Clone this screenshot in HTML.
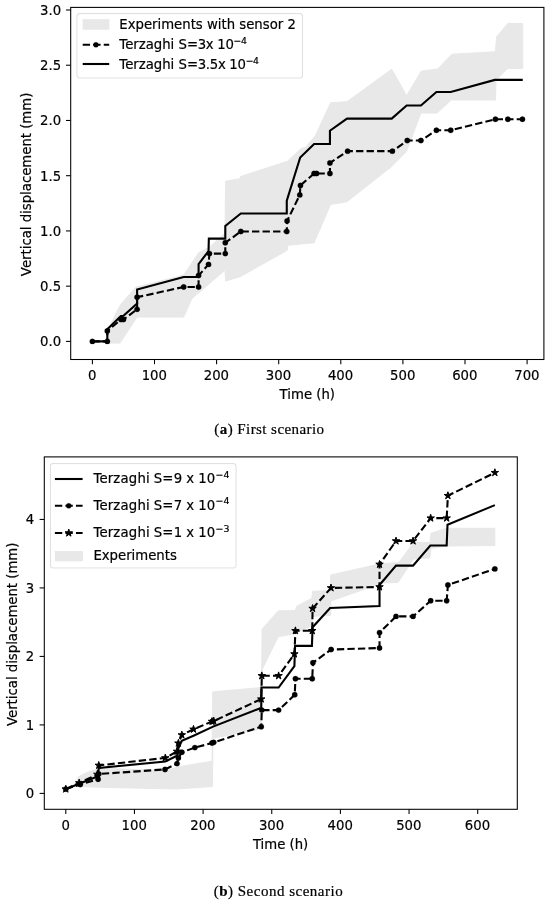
<!DOCTYPE html>
<html lang="en">
<head>
<meta charset="utf-8">
<title>Vertical displacement vs time</title>
<style>
html,body{margin:0;padding:0;background:#fff}
svg{display:block}
</style>
</head>
<body>
<svg width="550" height="905" viewBox="0 0 550 905" font-family='"DejaVu Sans", "Liberation Sans", sans-serif' font-size="13.25" fill="#000">
<defs><filter id="soft" x="0" y="0" width="550" height="905" filterUnits="userSpaceOnUse"><feGaussianBlur stdDeviation="0.45"/></filter></defs>
<rect width="550" height="905" fill="#fff"/>
<g filter="url(#soft)" stroke="#000" stroke-width="0.2" paint-order="stroke">
<g id="chart1">
<clipPath id="c1"><rect x="70.7" y="7.4" width="473.2" height="352.1"/></clipPath>
<g clip-path="url(#c1)">
<polygon fill="#e8e8e8" stroke="#dedede" stroke-width="0.7" points="107.3,341.4 107.93,330.35 116,313.01 120.97,303.95 135.87,287.27 183.69,275.12 198.59,252.69 209.15,247.5 224.98,233.14 225.6,181.22 240.2,178.68 240.51,176.47 287.39,161.33 301.06,148.52 305.4,147.3 315.34,135.82 330.55,102.78 347.01,101.68 391.72,69.2 406.63,95.6 421.22,71.08 437.68,68.98 451.96,54.18 495.43,51.75 496.67,36.72 507.85,23.47 522.75,23.47 522.75,68.54 507.85,68.54 496.05,80.03 495.43,100.02 451.34,100.02 437.05,113.06 420.91,113.06 406.63,151.28 391.72,166.53 347.01,201.66 330.55,204.53 314.1,242.75 287.7,245.29 287.39,250.26 240.2,276.66 225.6,281.08 224.98,270.15 191.76,298.87 183.69,317.1 137.11,317.1 120.03,343.06 107.93,343.06"/>
<polyline fill="none" stroke="#000" stroke-width="2.1" stroke-dasharray="7.35 3.18" points="92.4,341.4 107.3,341.4 107.3,330.91 120.97,319.53 123.45,319.53 137.11,309.36 137.11,297.21 183.69,286.94 198.59,286.94 198.59,275.56 208.53,264.4 209.46,253.58 225.29,253.58 225.29,242.75 240.82,231.48 286.77,231.48 287.08,220.99 299.81,194.92 300.44,185.42 314.1,173.49 316.58,173.49 329.93,173.49 329.93,162.99 347.63,151.17 392.34,151.17 407.25,140.57 420.91,140.57 436.43,130.29 450.72,130.29 495.43,119.24 507.85,119.24 522.44,119.24"/>
<g fill="#000"><circle cx="92.4" cy="341.4" r="2.7"/><circle cx="107.3" cy="341.4" r="2.7"/><circle cx="107.3" cy="330.91" r="2.7"/><circle cx="120.97" cy="319.53" r="2.7"/><circle cx="123.45" cy="319.53" r="2.7"/><circle cx="137.11" cy="309.36" r="2.7"/><circle cx="137.11" cy="297.21" r="2.7"/><circle cx="183.69" cy="286.94" r="2.7"/><circle cx="198.59" cy="286.94" r="2.7"/><circle cx="198.59" cy="275.56" r="2.7"/><circle cx="208.53" cy="264.4" r="2.7"/><circle cx="209.46" cy="253.58" r="2.7"/><circle cx="225.29" cy="253.58" r="2.7"/><circle cx="225.29" cy="242.75" r="2.7"/><circle cx="240.82" cy="231.48" r="2.7"/><circle cx="286.77" cy="231.48" r="2.7"/><circle cx="287.08" cy="220.99" r="2.7"/><circle cx="299.81" cy="194.92" r="2.7"/><circle cx="300.44" cy="185.42" r="2.7"/><circle cx="314.1" cy="173.49" r="2.7"/><circle cx="316.58" cy="173.49" r="2.7"/><circle cx="329.93" cy="173.49" r="2.7"/><circle cx="329.93" cy="162.99" r="2.7"/><circle cx="347.63" cy="151.17" r="2.7"/><circle cx="392.34" cy="151.17" r="2.7"/><circle cx="407.25" cy="140.57" r="2.7"/><circle cx="420.91" cy="140.57" r="2.7"/><circle cx="436.43" cy="130.29" r="2.7"/><circle cx="450.72" cy="130.29" r="2.7"/><circle cx="495.43" cy="119.24" r="2.7"/><circle cx="507.85" cy="119.24" r="2.7"/><circle cx="522.44" cy="119.24" r="2.7"/></g>
<polyline fill="none" stroke="#000" stroke-width="2.1" stroke-linejoin="miter" points="92.4,341.4 107.3,341.4 107.3,329.25 120.97,316.1 123.45,315.66 137.11,303.51 137.11,289.48 183.69,277 198.59,277 198.59,264.07 208.53,251.04 208.84,238.66 225.29,238.66 225.29,225.96 240.82,213.48 286.77,213.48 286.77,200.77 300.19,157.47 314.1,143.99 329.93,143.99 329.93,130.73 347.01,118.58 391.72,118.58 406.63,105.55 420.91,105.55 436.43,92.07 450.72,92.07 494.81,79.92 522.75,79.92"/>
</g>
<rect x="70.7" y="7.4" width="473.2" height="352.1" fill="none" stroke="#000" stroke-width="1.06"/>
<g stroke="#000" stroke-width="1.06"><line x1="92.4" y1="359.5" x2="92.4" y2="364.2"/><line x1="154.5" y1="359.5" x2="154.5" y2="364.2"/><line x1="216.6" y1="359.5" x2="216.6" y2="364.2"/><line x1="278.7" y1="359.5" x2="278.7" y2="364.2"/><line x1="340.8" y1="359.5" x2="340.8" y2="364.2"/><line x1="402.9" y1="359.5" x2="402.9" y2="364.2"/><line x1="465" y1="359.5" x2="465" y2="364.2"/><line x1="527.1" y1="359.5" x2="527.1" y2="364.2"/></g><g text-anchor="middle"><text x="92.2" y="379.9">0</text><text x="154.3" y="379.9">100</text><text x="216.4" y="379.9">200</text><text x="278.5" y="379.9">300</text><text x="340.6" y="379.9">400</text><text x="402.7" y="379.9">500</text><text x="464.8" y="379.9">600</text><text x="526.9" y="379.9">700</text></g>
<g stroke="#000" stroke-width="1.06"><line x1="66" y1="341.4" x2="70.7" y2="341.4"/><line x1="66" y1="286.16" x2="70.7" y2="286.16"/><line x1="66" y1="230.93" x2="70.7" y2="230.93"/><line x1="66" y1="175.69" x2="70.7" y2="175.69"/><line x1="66" y1="120.46" x2="70.7" y2="120.46"/><line x1="66" y1="65.22" x2="70.7" y2="65.22"/><line x1="66" y1="9.99" x2="70.7" y2="9.99"/></g><g text-anchor="end"><text x="61.2" y="346.4">0.0</text><text x="61.2" y="291.16">0.5</text><text x="61.2" y="235.93">1.0</text><text x="61.2" y="180.69">1.5</text><text x="61.2" y="125.46">2.0</text><text x="61.2" y="70.22">2.5</text><text x="61.2" y="14.99">3.0</text></g>
<text x="307.3" y="398.6" text-anchor="middle">Time (h)</text>
<text transform="translate(31.3 184.4) rotate(-90)" text-anchor="middle">Vertical displacement (mm)</text>
<rect x="77.2" y="13.7" width="225.2" height="64.1" rx="2.6" fill="#fff" fill-opacity="0.8" stroke="#ccc" stroke-width="1.06"/>
<rect x="83" y="19.7" width="26" height="9.5" fill="#e8e8e8" stroke="#dadada" stroke-width="0.5"/>
<text x="119.3" y="29.0">Experiments with sensor 2</text>
<line x1="82.7" y1="44.7" x2="109.2" y2="44.7" stroke="#000" stroke-width="2.1" stroke-dasharray="7.35 3.18"/>
<circle cx="95.95" cy="44.7" r="2.55"/>
<text x="119.3" y="49.2">Terzaghi S<tspan letter-spacing="-0.3">=3x 10<tspan dy="-4.8" font-size="9.27">−4</tspan></tspan></text>
<line x1="82.7" y1="64.0" x2="109.2" y2="64.0" stroke="#000" stroke-width="2.1"/>
<text x="119.3" y="68.6">Terzaghi S<tspan letter-spacing="-0.3">=3.5x 10<tspan dy="-4.8" font-size="9.27">−4</tspan></tspan></text>
</g>
<text x="214.3" y="434.4" letter-spacing="0.43" font-family='"Liberation Serif", "DejaVu Serif", serif' font-size="15">(<tspan font-weight="bold">a</tspan>) First scenario</text>
<g id="chart2">
<clipPath id="c2"><rect x="44.3" y="456.9" width="473" height="352.4"/></clipPath>
<g clip-path="url(#c2)">
<polygon fill="#e8e8e8" stroke="#dedede" stroke-width="0.7" points="76.1,784.5 78.16,776.83 87.29,772.31 94.63,769.98 98.75,768.06 165.34,770.8 179.07,766.69 212.02,761.21 212.71,691.83 261.45,687.51 262.14,629.02 278.27,610.87 295.43,610.53 296.46,606.42 311.91,598.2 312.6,591.29 330.1,590.53 330.79,574.99 379.53,563.96 398.75,562.59 413.58,542.45 429.99,542.45 431.02,533.14 446.81,528.28 494.86,528.28 494.86,545.53 446.81,546.01 431.02,548.41 429.99,557.79 413.58,559.03 398.07,582.45 379.87,583 379.53,584.03 330.79,601.01 330.45,615.46 312.6,616.35 311.91,625.46 295.43,633.61 278.27,636.69 262.34,669.09 261.8,728.75 213.05,738.2 212.37,786.55 175.64,789.02 98.75,787.24 78.84,786.55"/>
<polyline fill="none" stroke="#000" stroke-width="2.1" stroke-linejoin="miter" points="65.8,789.09 79.19,783.81 98.07,776.28 98.75,768.06 165.34,761.48 177.01,755.73 178.39,748.2 181.82,740.8 193.49,735.73 213.05,726.62 261.25,707.79 261.45,687.51 278.62,687.51 294.4,666.21 295.09,645.87 311.91,645.87 312.6,627.17 330.1,608 379.53,606.01 379.53,584.98 396.01,565.6 413.03,565.6 430.33,545.53 446.67,545.53 447.49,524.71 494.86,505.13"/>
<polyline fill="none" stroke="#000" stroke-width="2.1" stroke-dasharray="7.35 3.18" points="65.8,789.09 80.22,784.5 98.07,779.29 98.75,774.02 165,769.43 177.01,763.61 178.39,757.92 181.82,752.31 194.86,747.58 212.02,743.06 213.74,742.37 261.25,726.69 261.8,710.12 278.62,710.12 294.75,694.77 295.43,678.68 312.25,678.68 312.94,662.72 331.06,649.57 379.53,648 379.53,632.59 396.01,616.42 413.03,616.42 430.67,600.81 446.67,600.81 447.91,584.98 494.86,568.89"/>
<g fill="#000"><circle cx="65.8" cy="789.09" r="2.7"/><circle cx="80.22" cy="784.5" r="2.7"/><circle cx="98.07" cy="779.29" r="2.7"/><circle cx="98.75" cy="774.02" r="2.7"/><circle cx="165" cy="769.43" r="2.7"/><circle cx="177.01" cy="763.61" r="2.7"/><circle cx="178.39" cy="757.92" r="2.7"/><circle cx="181.82" cy="752.31" r="2.7"/><circle cx="194.86" cy="747.58" r="2.7"/><circle cx="212.02" cy="743.06" r="2.7"/><circle cx="213.74" cy="742.37" r="2.7"/><circle cx="261.25" cy="726.69" r="2.7"/><circle cx="261.8" cy="710.12" r="2.7"/><circle cx="278.62" cy="710.12" r="2.7"/><circle cx="294.75" cy="694.77" r="2.7"/><circle cx="295.43" cy="678.68" r="2.7"/><circle cx="312.25" cy="678.68" r="2.7"/><circle cx="312.94" cy="662.72" r="2.7"/><circle cx="331.06" cy="649.57" r="2.7"/><circle cx="379.53" cy="648" r="2.7"/><circle cx="379.53" cy="632.59" r="2.7"/><circle cx="396.01" cy="616.42" r="2.7"/><circle cx="413.03" cy="616.42" r="2.7"/><circle cx="430.67" cy="600.81" r="2.7"/><circle cx="446.67" cy="600.81" r="2.7"/><circle cx="447.91" cy="584.98" r="2.7"/><circle cx="494.86" cy="568.89" r="2.7"/></g>
<polyline fill="none" stroke="#000" stroke-width="2.1" stroke-dasharray="7.35 3.18" points="65.8,789.09 79.19,782.92 97.38,774.43 98.75,765.39 165.34,757.92 177.01,751.42 178.39,743.2 181.82,734.98 193.49,729.29 212.02,721.49 213.74,721.07 261.25,699.09 261.8,675.8 278.62,675.8 294.4,654.02 295.43,630.74 312.25,630.74 312.6,608.48 330.99,587.93 379.53,586.97 379.53,564.37 396.01,541.01 413.03,541.01 430.67,518.14 446.67,518.14 447.91,495.67 494.86,472.66"/>
<path d="M65.8,785.19 L66.68,787.88 L69.51,787.88 L67.22,789.55 L68.09,792.24 L65.8,790.57 L63.51,792.24 L64.38,789.55 L62.09,787.88 L64.92,787.88Z M79.19,779.02 L80.06,781.72 L82.9,781.72 L80.6,783.38 L81.48,786.08 L79.19,784.41 L76.89,786.08 L77.77,783.38 L75.48,781.72 L78.31,781.72Z M97.38,770.53 L98.25,773.22 L101.09,773.22 L98.8,774.89 L99.67,777.58 L97.38,775.92 L95.09,777.58 L95.96,774.89 L93.67,773.22 L96.5,773.22Z M98.75,761.49 L99.63,764.18 L102.46,764.18 L100.17,765.85 L101.04,768.54 L98.75,766.88 L96.46,768.54 L97.34,765.85 L95.04,764.18 L97.88,764.18Z M165.34,754.02 L166.22,756.72 L169.05,756.72 L166.76,758.38 L167.63,761.08 L165.34,759.41 L163.05,761.08 L163.93,758.38 L161.63,756.72 L164.47,756.72Z M177.01,747.52 L177.89,750.21 L180.72,750.21 L178.43,751.88 L179.31,754.57 L177.01,752.91 L174.72,754.57 L175.6,751.88 L173.3,750.21 L176.14,750.21Z M178.39,739.3 L179.26,741.99 L182.1,741.99 L179.8,743.66 L180.68,746.35 L178.39,744.69 L176.09,746.35 L176.97,743.66 L174.68,741.99 L177.51,741.99Z M181.82,731.08 L182.69,733.77 L185.53,733.77 L183.24,735.44 L184.11,738.13 L181.82,736.47 L179.53,738.13 L180.4,735.44 L178.11,733.77 L180.94,733.77Z M193.49,725.39 L194.36,728.09 L197.2,728.09 L194.91,729.75 L195.78,732.45 L193.49,730.78 L191.2,732.45 L192.07,729.75 L189.78,728.09 L192.61,728.09Z M212.02,717.59 L212.9,720.28 L215.73,720.28 L213.44,721.95 L214.32,724.64 L212.02,722.98 L209.73,724.64 L210.61,721.95 L208.32,720.28 L211.15,720.28Z M213.74,717.17 L214.62,719.87 L217.45,719.87 L215.16,721.53 L216.03,724.23 L213.74,722.56 L211.45,724.23 L212.32,721.53 L210.03,719.87 L212.87,719.87Z M261.25,695.19 L262.12,697.88 L264.96,697.88 L262.66,699.55 L263.54,702.24 L261.25,700.58 L258.95,702.24 L259.83,699.55 L257.54,697.88 L260.37,697.88Z M261.8,671.9 L262.67,674.6 L265.5,674.6 L263.21,676.26 L264.09,678.96 L261.8,677.29 L259.5,678.96 L260.38,676.26 L258.09,674.6 L260.92,674.6Z M278.62,671.9 L279.49,674.6 L282.32,674.6 L280.03,676.26 L280.91,678.96 L278.62,677.29 L276.32,678.96 L277.2,676.26 L274.91,674.6 L277.74,674.6Z M294.4,650.12 L295.28,652.82 L298.11,652.82 L295.82,654.48 L296.7,657.18 L294.4,655.51 L292.11,657.18 L292.99,654.48 L290.7,652.82 L293.53,652.82Z M295.43,626.84 L296.31,629.53 L299.14,629.53 L296.85,631.2 L297.73,633.89 L295.43,632.23 L293.14,633.89 L294.02,631.2 L291.73,629.53 L294.56,629.53Z M312.25,626.84 L313.13,629.53 L315.96,629.53 L313.67,631.2 L314.55,633.89 L312.25,632.23 L309.96,633.89 L310.84,631.2 L308.54,629.53 L311.38,629.53Z M312.6,604.58 L313.47,607.27 L316.31,607.27 L314.01,608.94 L314.89,611.63 L312.6,609.97 L310.3,611.63 L311.18,608.94 L308.89,607.27 L311.72,607.27Z M330.99,584.03 L331.87,586.72 L334.7,586.72 L332.41,588.39 L333.29,591.09 L330.99,589.42 L328.7,591.09 L329.58,588.39 L327.29,586.72 L330.12,586.72Z M379.53,583.07 L380.41,585.77 L383.24,585.77 L380.95,587.43 L381.82,590.13 L379.53,588.46 L377.24,590.13 L378.11,587.43 L375.82,585.77 L378.65,585.77Z M379.53,560.47 L380.41,563.16 L383.24,563.16 L380.95,564.83 L381.82,567.52 L379.53,565.86 L377.24,567.52 L378.11,564.83 L375.82,563.16 L378.65,563.16Z M396.01,537.11 L396.88,539.81 L399.72,539.81 L397.42,541.47 L398.3,544.17 L396.01,542.5 L393.71,544.17 L394.59,541.47 L392.3,539.81 L395.13,539.81Z M413.03,537.11 L413.91,539.81 L416.74,539.81 L414.45,541.47 L415.32,544.17 L413.03,542.5 L410.74,544.17 L411.61,541.47 L409.32,539.81 L412.16,539.81Z M430.67,514.24 L431.55,516.93 L434.38,516.93 L432.09,518.6 L432.97,521.29 L430.67,519.63 L428.38,521.29 L429.26,518.6 L426.97,516.93 L429.8,516.93Z M446.67,514.24 L447.55,516.93 L450.38,516.93 L448.09,518.6 L448.96,521.29 L446.67,519.63 L444.38,521.29 L445.25,518.6 L442.96,516.93 L445.79,516.93Z M447.91,491.77 L448.78,494.47 L451.62,494.47 L449.32,496.13 L450.2,498.83 L447.91,497.16 L445.61,498.83 L446.49,496.13 L444.2,494.47 L447.03,494.47Z M494.86,468.76 L495.74,471.46 L498.57,471.46 L496.28,473.12 L497.15,475.82 L494.86,474.15 L492.57,475.82 L493.45,473.12 L491.15,471.46 L493.99,471.46Z" stroke="#000" stroke-width="1" stroke-linejoin="bevel"/>
</g>
<rect x="44.3" y="456.9" width="473" height="352.4" fill="none" stroke="#000" stroke-width="1.06"/>
<g stroke="#000" stroke-width="1.06"><line x1="65.8" y1="809.3" x2="65.8" y2="814"/><line x1="134.45" y1="809.3" x2="134.45" y2="814"/><line x1="203.1" y1="809.3" x2="203.1" y2="814"/><line x1="271.75" y1="809.3" x2="271.75" y2="814"/><line x1="340.4" y1="809.3" x2="340.4" y2="814"/><line x1="409.05" y1="809.3" x2="409.05" y2="814"/><line x1="477.7" y1="809.3" x2="477.7" y2="814"/></g><g text-anchor="middle"><text x="65.6" y="829.7">0</text><text x="134.25" y="829.7">100</text><text x="202.9" y="829.7">200</text><text x="271.55" y="829.7">300</text><text x="340.2" y="829.7">400</text><text x="408.85" y="829.7">500</text><text x="477.5" y="829.7">600</text></g>
<g stroke="#000" stroke-width="1.06"><line x1="39.6" y1="793.4" x2="44.3" y2="793.4"/><line x1="39.6" y1="724.91" x2="44.3" y2="724.91"/><line x1="39.6" y1="656.42" x2="44.3" y2="656.42"/><line x1="39.6" y1="587.93" x2="44.3" y2="587.93"/><line x1="39.6" y1="519.44" x2="44.3" y2="519.44"/></g><g text-anchor="end"><text x="34.3" y="798.4">0</text><text x="34.3" y="729.91">1</text><text x="34.3" y="661.42">2</text><text x="34.3" y="592.93">3</text><text x="34.3" y="524.44">4</text></g>
<text x="280.6" y="848.8" text-anchor="middle">Time (h)</text>
<text transform="translate(17.2 634.3) rotate(-90)" text-anchor="middle">Vertical displacement (mm)</text>
<rect x="50.5" y="463.8" width="185.3" height="104" rx="2.6" fill="#fff" fill-opacity="0.8" stroke="#ccc" stroke-width="1.06"/>
<line x1="54.9" y1="479" x2="82.6" y2="479" stroke="#000" stroke-width="2.1"/>
<text x="93.4" y="483.0" letter-spacing="0.18" word-spacing="-0.45">Terzaghi S=9 x 10<tspan dy="-5.5" font-size="9.4">−4</tspan></text>
<line x1="54.9" y1="505.8" x2="82.6" y2="505.8" stroke="#000" stroke-width="2.1" stroke-dasharray="7.35 3.18"/>
<circle cx="68.75" cy="505.8" r="2.55"/>
<text x="93.4" y="509.8" letter-spacing="0.18" word-spacing="-0.45">Terzaghi S=7 x 10<tspan dy="-5.5" font-size="9.4">−4</tspan></text>
<line x1="54.9" y1="533.0" x2="82.6" y2="533.0" stroke="#000" stroke-width="2.1" stroke-dasharray="7.35 3.18"/>
<path d="M68.75,529.1 L69.63,531.79 L72.46,531.79 L70.17,533.46 L71.04,536.16 L68.75,534.49 L66.46,536.16 L67.33,533.46 L65.04,531.79 L67.87,531.79Z" stroke="#000" stroke-width="1" stroke-linejoin="bevel"/>
<text x="93.4" y="537.0" letter-spacing="0.18" word-spacing="-0.45">Terzaghi S=1 x 10<tspan dy="-5.5" font-size="9.4">−3</tspan></text>
<rect x="55.2" y="551.5" width="27.2" height="9.5" fill="#e8e8e8" stroke="#dadada" stroke-width="0.5"/>
<text x="93.4" y="560.4">Experiments</text>
</g>
<text x="213.7" y="895.9" letter-spacing="0.5" font-family='"Liberation Serif", "DejaVu Serif", serif' font-size="15">(<tspan font-weight="bold">b</tspan>) Second scenario</text>
</g>
</svg>
</body>
</html>
